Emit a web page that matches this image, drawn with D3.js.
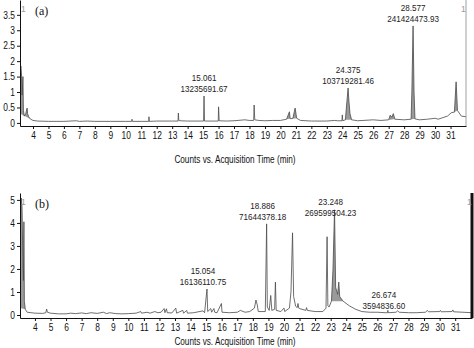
<!DOCTYPE html>
<html><head><meta charset="utf-8">
<script src="https://cdn.jsdelivr.net/npm/d3@7"></script>
<style>body{margin:0;background:#fff}svg{display:block}</style>
</head><body>
<script>
// ---------- data ----------
const xTicks = d3.range(4, 32);
const yTicksA = [0, 0.5, 1, 1.5, 2, 2.5, 3, 3.5];
const yTicksB = [0, 1, 2, 3, 4, 5];
const xTitle = "Counts vs. Acquisition Time (min)";
const panelNames = ["(a)", "(b)"];

// chromatogram (a): [time (min), counts]
const traceA = [
 [3.16,0.3],[3.19,1.75],[3.22,1.84],[3.26,1.55],[3.3,0.9],[3.35,1.5],[3.38,0.4],[3.44,0.22],[3.53,0.3],[3.62,0.48],[3.65,0.3],
 [3.72,0.2],[3.82,0.13],[4.0,0.08],[4.3,0.06],[5,0.05],[6,0.05],[6.8,0.07],[7,0.05],[7.5,0.06],[8,0.05],[9,0.05],
 [10.0,0.05],[10.38,0.05],[10.4,0.12],[10.42,0.05],[11.0,0.05],[11.48,0.05],[11.5,0.2],[11.52,0.05],[12,0.06],
 [13.0,0.06],[13.38,0.06],[13.4,0.32],[13.43,0.08],[13.5,0.07],[14,0.06],[15.03,0.06],[15.061,0.87],[15.09,0.06],
 [15.5,0.06],[15.98,0.06],[16.0,0.52],[16.04,0.07],[16.5,0.06],[17.0,0.07],[17.7,0.1],[18.0,0.08],[18.27,0.08],
 [18.3,0.58],[18.34,0.1],[18.6,0.08],[19,0.07],[19.5,0.08],[20.0,0.08],[20.4,0.12],[20.58,0.36],[20.63,0.14],
 [20.8,0.14],[20.95,0.48],[21.05,0.15],[21.3,0.08],[22,0.06],[23,0.06],[23.5,0.08],[23.7,0.07],[23.98,0.07],
 [24.0,0.26],[24.03,0.07],[24.2,0.1],[24.3,0.7],[24.375,1.13],[24.43,0.7],[24.5,0.3],[24.6,0.1],[25,0.07],
 [26.0,0.1],[26.5,0.08],[27.0,0.1],[27.1,0.25],[27.2,0.18],[27.3,0.3],[27.4,0.12],[28,0.1],[28.45,0.12],
 [28.5,1.0],[28.577,3.14],[28.64,1.0],[28.7,0.13],[29,0.1],[29.5,0.12],[30.0,0.15],[30.2,0.12],[30.8,0.22],
 [31.05,0.33],[31.25,0.35],[31.36,1.33],[31.45,0.4],[31.7,0.22],[32.0,0.2]
];
const shadeA = [[3.16,3.82],[20.4,20.63],[20.8,21.05],[24.2,24.6],[27.0,27.4],[28.45,28.7],[31.25,31.45]];
const peaksA = [
 {t:15.061, v:0.87, rt:"15.061", area:"13235691.67"},
 {t:24.375, v:1.13, rt:"24.375", area:"103719281.46"},
 {t:28.577, v:3.14, rt:"28.577", area:"241424473.93"}
];

// chromatogram (b)
const traceB = [
 [3.04,0.3],[3.08,4.7],[3.12,5.08],[3.17,4.7],[3.22,2.5],[3.26,1.5],[3.29,4.05],[3.32,0.6],[3.38,0.25],[3.5,0.12],
 [4.0,0.08],[4.5,0.07],[4.7,0.1],[4.75,0.26],[4.8,0.12],[5.0,0.08],[5.5,0.05],[6,0.05],[6.3,0.08],[6.6,0.06],
 [7,0.09],[7.3,0.06],[7.6,0.1],[8,0.07],[8.4,0.12],[8.6,0.06],[8.8,0.1],[9.2,0.06],[9.6,0.05],[10,0.06],[10.5,0.08],
 [10.8,0.15],[10.85,0.08],[11.2,0.12],[11.4,0.08],[11.7,0.15],[11.9,0.1],[12.1,0.12],[12.3,0.28],[12.35,0.1],
 [12.45,0.27],[12.5,0.1],[12.8,0.09],[13.05,0.3],[13.1,0.08],[13.5,0.2],[13.55,0.08],[13.75,0.2],[13.8,0.08],
 [14.2,0.1],[14.8,0.18],[14.9,0.1],[15.054,1.13],[15.1,0.15],[15.3,0.28],[15.35,0.12],[15.5,0.28],[15.55,0.12],
 [15.7,0.1],[15.98,0.5],[16.02,0.12],[16.5,0.1],[17.0,0.12],[17.2,0.2],[17.5,0.12],[17.8,0.15],[18.1,0.3],
 [18.2,0.65],[18.28,0.45],[18.35,0.15],[18.8,0.15],[18.886,3.96],[18.93,0.35],[19.05,0.2],[19.15,0.85],[19.22,0.2],
 [19.4,0.25],[19.45,1.43],[19.5,0.2],[19.8,0.15],[20.0,0.3],[20.05,0.15],[20.35,0.3],[20.45,1.0],[20.55,3.57],
 [20.62,0.8],[20.75,0.38],[20.85,0.32],[20.9,0.5],[20.95,0.3],[21.0,0.28],[21.4,0.2],[21.45,0.32],[21.5,0.2],
 [22,0.15],[22.5,0.15],[22.7,0.3],[22.77,3.4],[22.82,0.4],[22.9,0.35],[23.05,0.6],[23.15,2.0],[23.248,4.57],
 [23.32,1.2],[23.45,0.9],[23.52,1.43],[23.58,0.8],[23.8,0.6],[24.2,0.4],[24.6,0.25],[25,0.15],[25.5,0.12],
 [26,0.12],[26.5,0.1],[26.65,0.1],[26.674,0.2],[26.7,0.1],[27.2,0.12],[27.3,0.18],[27.4,0.12],[28,0.1],
 [28.5,0.1],[29.1,0.12],[29.2,0.2],[29.3,0.14],[30.0,0.15],[30.05,0.2],[30.1,0.14],[30.8,0.15],[30.85,0.22],
 [30.9,0.14],[31.5,0.12],[32.08,0.1]
];
const shadeB = [[3.04,3.38],[23.05,23.8]];
const peaksB = [
 {t:15.054, v:1.13, rt:"15.054", area:"16136110.75"},
 {t:18.886, v:3.96, rt:"18.886", area:"71644378.18"},
 {t:23.248, v:4.15, rt:"23.248", area:"269599504.23"},
 {t:26.674, v:0.1, rt:"26.674", area:"3594836.60"}
];

// ---------- drawing ----------
const W = 474, H = 348;
const svg = d3.select("body").append("svg").attr("width", W).attr("height", H);
const FONT = "'Liberation Sans', Arial, Helvetica, sans-serif";

function condense(sel, f) {
  sel.each(function() {
    const L = this.getComputedTextLength();
    d3.select(this).attr("textLength", L * f).attr("lengthAdjust", "spacingAndGlyphs");
  });
}

function drawPanel(o) {
  const g = svg.append("g");
  const x = d3.scaleLinear().domain(o.xDom).range([o.left, o.right]);
  const y = d3.scaleLinear().domain(o.yDom).range([o.bottom, o.top]);
  const id = "clip" + o.name.replace(/\W/g, "");
  svg.append("clipPath").attr("id", id).append("rect")
    .attr("x", o.left).attr("y", o.top).attr("width", o.right - o.left).attr("height", o.bottom - o.top);

  const pg = g.append("g").attr("clip-path", `url(#${id})`);
  o.shade.forEach(([a, b]) => {
    const pts = o.trace.filter(d => d[0] >= a && d[0] <= b);
    const p0 = pts[0], p1 = pts[pts.length - 1];
    const base = t => p0[1] + (p1[1] - p0[1]) * (t - p0[0]) / (p1[0] - p0[0] || 1);
    pg.append("path").datum(pts)
      .attr("d", d3.area().x(d => x(d[0])).y0(d => y(base(d[0]))).y1(d => y(d[1])))
      .attr("fill", "#9a9a9a");
  });
  pg.append("path").datum(o.trace)
    .attr("d", d3.line().x(d => x(d[0])).y(d => y(d[1])))
    .attr("fill", "none").attr("stroke", "#4a4a4a").attr("stroke-width", 0.8)
    .attr("stroke-linejoin", "round");

  const xa = g.append("g").attr("transform", `translate(0,${o.bottom})`)
    .call(d3.axisBottom(x).tickValues(xTicks).tickSize(3).tickSizeOuter(0).tickPadding(3).tickFormat(d3.format("d")));
  const ya = g.append("g").attr("transform", `translate(${o.left},0)`)
    .call(d3.axisLeft(y).tickValues(o.yTicks).tickSize(3).tickSizeOuter(0).tickPadding(2).tickFormat(d3.format("")));
  [xa, ya].forEach(a => {
    a.selectAll("text").attr("font-family", FONT).attr("font-size", 10).attr("fill", "#111");
    a.select(".domain").attr("stroke", "#111");
    a.selectAll(".tick line").attr("stroke", "#111");
  });
  condense(xa.selectAll("text"), 0.84);
  condense(ya.selectAll("text"), 0.84);

  g.append("line").attr("x1", o.right).attr("x2", o.right).attr("y1", o.top).attr("y2", o.bottom)
    .attr("stroke", o.rightColor).attr("stroke-width", o.rightWidth);

  o.peaks.forEach(p => {
    const cx = x(p.t) + o.labelDx, cy = y(p.v) - 7;
    const t1 = g.append("text").attr("x", cx).attr("y", cy - 11 + 3.3).text(p.rt);
    const t2 = g.append("text").attr("x", cx).attr("y", cy + 3.3).text(p.area);
    [t1, t2].forEach(t => t.attr("text-anchor", "middle").attr("font-family", FONT)
      .attr("font-size", 9.5).attr("fill", "#222"));
    condense(t1, 0.85); condense(t2, 0.85);
  });

  g.append("text").attr("x", o.left + 15).attr("y", o.top + o.letterDy).text(o.name)
    .attr("font-family", "'Liberation Serif', 'Times New Roman', serif").attr("font-size", 12).attr("fill", "#111");
  g.append("text").attr("x", o.left + 1).attr("y", o.top + o.oneDy).text("1")
    .attr("font-family", FONT).attr("font-size", 8.5).attr("fill", "#999");
  g.append("text").attr("x", o.right - 5).attr("y", o.top + o.oneDy).text("1")
    .attr("font-family", FONT).attr("font-size", 8.5).attr("fill", "#999");

  const tt = g.append("text").attr("x", 235).attr("y", o.bottom + o.titleDy).text(xTitle)
    .attr("text-anchor", "middle").attr("font-family", FONT).attr("font-size", 10).attr("fill", "#111");
  condense(tt, 0.82);
}

drawPanel({name: panelNames[0], trace: traceA, shade: shadeA, peaks: peaksA, yTicks: yTicksA,
  xDom: [3.16, 32.0], yDom: [-0.1, 3.98], left: 20, right: 466, top: 0, bottom: 126,
  rightColor: "#888", rightWidth: 0.8, letterDy: 15, oneDy: 12, titleDy: 37, labelDx: 0});
drawPanel({name: panelNames[1], trace: traceB, shade: shadeB, peaks: peaksB, yTicks: yTicksB,
  xDom: [3.04, 32.08], yDom: [-0.13, 5.3], left: 20, right: 472, top: 193, bottom: 318,
  rightColor: "#111", rightWidth: 3, letterDy: 15, oneDy: 12, titleDy: 27, labelDx: -4});
</script>
</body></html>
